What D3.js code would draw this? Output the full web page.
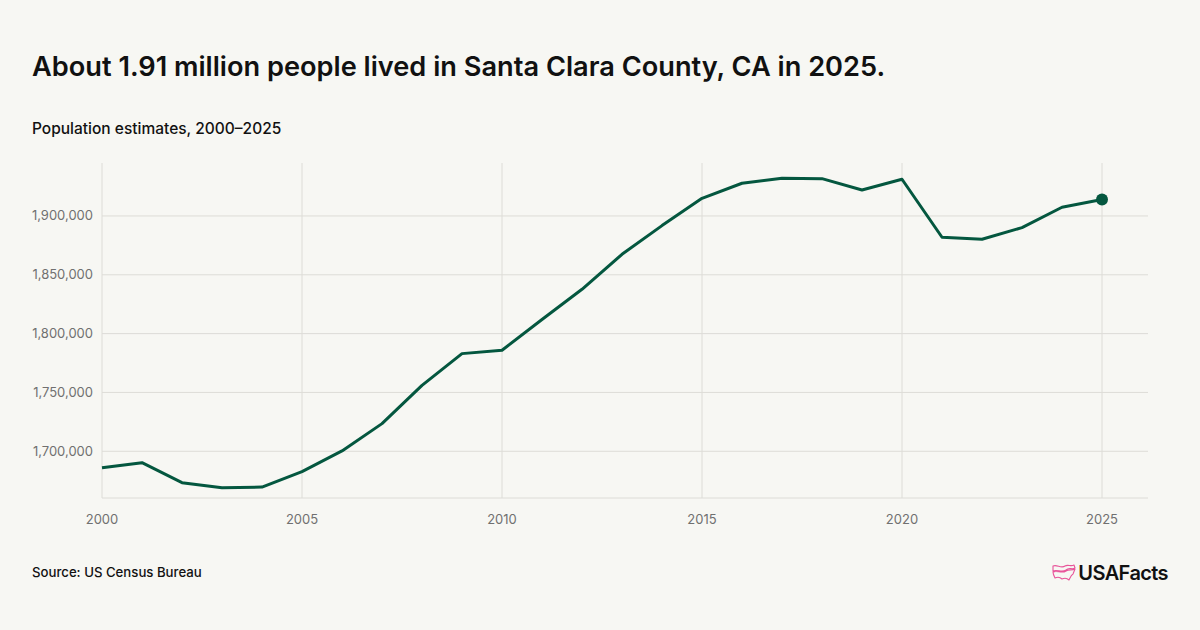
<!DOCTYPE html>
<html>
<head>
<meta charset="utf-8">
<script src="https://cdn.jsdelivr.net/npm/d3@7"></script>
<style>
  html, body { margin: 0; padding: 0; background: #f7f7f3; }
  svg { display: block; font-family: Inter, 'Noto Sans', sans-serif; }
</style>
</head>
<body>
<svg id="chart" width="1200" height="630"></svg>
<script>
// Santa Clara County population, 2000–2025
const years = [2000, 2001, 2002, 2003, 2004, 2005, 2006, 2007, 2008, 2009, 2010, 2011, 2012,
               2013, 2014, 2015, 2016, 2017, 2018, 2019, 2020, 2021, 2022, 2023, 2024, 2025];
const population = [1686000, 1690300, 1673300, 1669000, 1669600, 1682700, 1700300, 1723500,
                    1756000, 1783000, 1785900, 1812000, 1837700, 1867400, 1891800, 1915000,
                    1927800, 1932000, 1931700, 1922100, 1931200, 1881900, 1880200, 1890100,
                    1907400, 1913900];
const xTicks = [2000, 2005, 2010, 2015, 2020, 2025];
const yTicks = [1700000, 1750000, 1800000, 1850000, 1900000];

const svg = d3.select('#chart');
const margin = { top: 163, right: 52, bottom: 132, left: 102 };
const W = 1200, H = 630;

const x = d3.scaleLinear().domain([2000, 2026.15]).range([margin.left, W - margin.right]);
const y = d3.scaleLinear().domain([1660300, 1945000]).range([H - margin.bottom, margin.top]);

const grid = '#dddcd7';

// ── Titles ──
svg.append('text').attr('x', 32).attr('y', 76)
  .style('font-size', '27.2px').style('font-weight', 600)
  .style('fill', '#111').text('About 1.91 million people lived in Santa Clara County, CA in 2025.');

svg.append('text').attr('x', 32).attr('y', 134)
  .style('font-size', '15.5px').style('font-weight', 500)
  .style('fill', '#111').text('Population estimates, 2000–2025');

// ── Grid ──
svg.append('g').selectAll('line').data(yTicks).enter().append('line')
  .attr('x1', margin.left).attr('x2', W - margin.right)
  .attr('y1', d => y(d)).attr('y2', d => y(d))
  .style('stroke', grid).style('stroke-width', 1);

svg.append('g').selectAll('line').data(xTicks).enter().append('line')
  .attr('x1', d => x(d)).attr('x2', d => x(d))
  .attr('y1', margin.top).attr('y2', H - margin.bottom)
  .style('stroke', grid).style('stroke-width', 1);

// bottom baseline
svg.append('line')
  .attr('x1', margin.left).attr('x2', W - margin.right)
  .attr('y1', H - margin.bottom).attr('y2', H - margin.bottom)
  .style('stroke', grid).style('stroke-width', 1);

// ── Axes labels ──
const fmt = d3.format(',');
svg.append('g').selectAll('text').data(yTicks).enter().append('text')
  .attr('x', 93).attr('y', d => y(d) + 4.5)
  .attr('text-anchor', 'end')
  .style('font-size', '13px').style('fill', '#707070')
  .text(d => fmt(d));

svg.append('g').selectAll('text').data(xTicks).enter().append('text')
  .attr('x', d => x(d)).attr('y', 524)
  .attr('text-anchor', 'middle')
  .style('font-size', '13px').style('fill', '#707070')
  .text(d => d);

// ── Line ──
const line = d3.line().x((d, i) => x(years[i])).y(d => y(d));
svg.append('path').datum(population)
  .attr('d', line)
  .style('fill', 'none').style('stroke', '#04573f').style('stroke-width', 3)
  .style('stroke-linejoin', 'round');

svg.append('circle')
  .attr('cx', x(years[years.length - 1])).attr('cy', y(population[population.length - 1]))
  .attr('r', 6).style('fill', '#04573f');

// ── Footer ──
svg.append('text').attr('x', 32).attr('y', 577)
  .style('font-size', '13.2px').style('font-weight', 500)
  .style('fill', '#111').text('Source: US Census Bureau');

const logo = svg.append('g').attr('transform', 'translate(1052,563)');
logo.append('path')
  .attr('d', 'M1,3 C5,1 9,6 13,3 C16,1 19,4 22,2 L23,5 C20,7 17,4 14,7 C10,10 5,6 1,8 Z M1,9 C5,7 10,11 14,8 C17,6 20,8 23,6 L21,11 C19,12 18,15 17,17 C15,15 12,15 10,16 C8,14 5,14 3,15 C2,13 1,11 1,9 Z')
  .style('fill', 'none').style('stroke', '#e8559a').style('stroke-width', 1.1)
  .style('stroke-linejoin', 'round');

svg.append('text').attr('x', 1168).attr('y', 580)
  .attr('text-anchor', 'end')
  .style('font-size', '20px').style('font-weight', 600).style('letter-spacing', '-0.6px')
  .style('fill', '#111').text('USAFacts');
</script>
</body>
</html>
